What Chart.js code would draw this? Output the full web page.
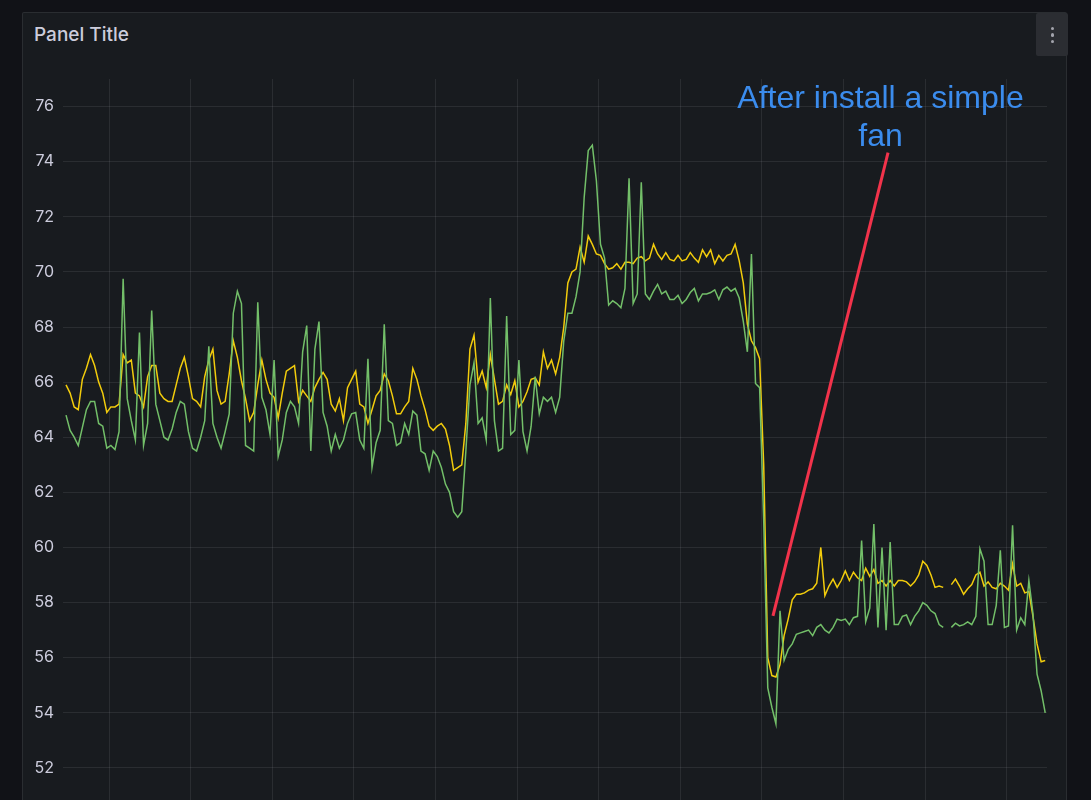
<!DOCTYPE html>
<html>
<head>
<meta charset="utf-8">
<script src="https://cdn.jsdelivr.net/npm/chart.js@4.4.1/dist/chart.umd.min.js"></script>
<style>
  html, body { margin: 0; padding: 0; }
  body {
    width: 1091px; height: 800px; overflow: hidden;
    background: #111217; position: relative;
    font-family: Inter, "Noto Sans", sans-serif;
  }
  #panel {
    position: absolute; left: 22px; top: 12px; width: 1045px; height: 850px;
    background: #181b1f; border: 1px solid rgba(204, 204, 220, 0.1);
    border-radius: 2px; box-sizing: border-box;
  }
  #title {
    position: absolute; left: 34px; top: 25px;
    font-size: 19px; line-height: 19px; font-weight: 500; color: #ccccdc;
  }
  #menu {
    position: absolute; left: 1036px; top: 13px; width: 32px; height: 43px;
    background: #2b2d32; border-radius: 2px;
  }
  #menu i {
    position: absolute; left: 14.5px; width: 3.4px; height: 3.4px;
    border-radius: 50%; background: #a3a4ad;
  }
  #wrap { position: absolute; left: 22px; top: 60px; width: 1046px; height: 790px; }
</style>
</head>
<body>
<div id="panel"></div>
<div id="title">Panel Title</div>
<div id="menu"><i style="top:13.5px"></i><i style="top:20.3px"></i><i style="top:27px"></i></div>
<div id="wrap"><canvas id="chart"></canvas></div>
<script>
// time axis: minutes of day, one sample every 30 s starting 13:54:44
const START_MIN = 834.73;
const STEP_MIN = 0.5;

// yellow series (null = missing sample)
const yellowValues = [
  65.9, 65.6, 65.1, 65.0, 66.1, 66.5, 67.0, 66.6, 66.0, 65.6,
  64.9, 65.1, 65.1, 65.2, 67.0, 66.7, 66.8, 65.6, 65.5, 65.1,
  66.2, 66.6, 66.6, 65.6, 65.4, 65.3, 65.3, 65.9, 66.5, 66.9,
  66.2, 65.4, 65.3, 65.1, 66.2, 66.8, 67.2, 65.7, 65.2, 65.3,
  66.3, 67.5, 66.9, 66.05, 65.4, 64.6, 64.9, 65.9, 66.8, 66.1,
  65.6, 65.45, 64.7, 65.6, 66.4, 66.5, 66.6, 65.3, 65.7, 65.5,
  65.3, 65.8, 66.1, 66.35, 66.1, 65.2, 64.95, 65.4, 64.6, 65.8,
  66.1, 66.4, 65.2, 65.1, 64.5, 65.0, 65.5, 65.7, 66.3, 66.05,
  65.5, 64.85, 64.85, 65.1, 65.3, 66.5, 66.1, 65.5, 65.0, 64.4,
  64.25, 64.4, 64.5, 64.3, 63.7, 62.8, 62.9, 63.0, 64.5, 67.2,
  67.7, 66.0, 66.4, 65.8, 67.0, 66.1, 65.2, 65.3, 65.9, 65.55,
  66.05, 65.1, 65.3, 65.65, 66.1, 66.15, 65.9, 67.1, 66.5, 66.8,
  66.3, 66.9, 68.0, 69.6, 70.0, 70.1, 70.9, 70.35, 71.3, 71.0,
  70.65, 70.6, 70.3, 70.1, 70.15, 70.3, 70.1, 70.35, 70.35, 70.3,
  70.5, 70.55, 70.4, 70.5, 71.0, 70.65, 70.45, 70.7, 70.45, 70.4,
  70.6, 70.4, 70.45, 70.7, 70.5, 70.35, 70.8, 70.55, 70.8, 70.3,
  70.6, 70.4, 70.6, 70.65, 71.0, 70.4, 69.6, 68.1, 67.5, 67.25,
  66.85, 63.0, 56.0, 55.35, 55.3, 55.75, 56.8, 57.4, 58.1, 58.3,
  58.3, 58.35, 58.45, 58.5, 58.7, 60.0, 58.25, 58.6, 58.85, 58.55,
  58.8, 59.15, 58.8, 59.1, 58.9, 58.8, 59.25, 58.95, 59.2, 58.7,
  58.8, 58.6, 58.8, 58.6, 58.8, 58.8, 58.75, 58.6, 58.75, 59.0,
  59.5, 59.35, 59.0, 58.55, 58.6, 58.55, null, 58.65, 58.85, 58.6,
  58.3, 58.5, 58.65, 59.0, 59.1, 58.6, 58.75, 58.55, 58.5, 58.7,
  58.6, 58.45, 59.4, 58.6, 58.7, 58.35, 58.4, 57.5, 56.5, 55.85, 55.9
];

// green series
const greenValues = [
  64.8, 64.25, 64.0, 63.7, 64.35, 65.0, 65.3, 65.3, 64.5, 64.4,
  63.6, 63.7, 63.55, 64.2, 69.75, 65.4, 64.6, 63.9, 67.8, 63.7,
  64.5, 68.6, 65.2, 64.6, 64.0, 63.9, 64.3, 64.9, 65.3, 65.2,
  64.2, 63.6, 63.5, 64.0, 64.6, 67.3, 64.5, 64.0, 63.6, 64.2,
  64.85, 68.5, 69.3, 68.85, 63.7, 63.6, 63.5, 68.9, 65.45, 65.0,
  64.1, 66.8, 63.3, 63.9, 64.9, 65.3, 65.1, 64.5, 67.1, 68.05,
  63.5, 67.2, 68.2, 64.9, 64.4, 63.5, 64.1, 63.6, 63.9, 64.5,
  64.85, 64.9, 63.9, 63.6, 66.85, 62.9, 63.8, 64.25, 68.1, 64.6,
  64.5, 63.7, 63.8, 64.5, 64.1, 64.95, 64.8, 63.5, 63.4, 62.8,
  63.5, 63.3, 62.9, 62.3, 62.0, 61.3, 61.1, 61.3, 63.5, 65.9,
  66.7, 64.5, 64.7, 63.9, 69.05, 64.6, 63.5, 63.6, 68.4, 64.1,
  64.25, 66.8, 64.2, 63.5, 64.4, 66.2, 64.85, 65.45, 65.3, 65.45,
  64.9, 65.45, 67.5, 68.5, 68.5, 69.1, 70.0, 72.7, 74.4, 74.6,
  73.3, 71.0, 70.5, 68.8, 68.95, 68.85, 68.7, 69.4, 73.4, 68.85,
  69.2, 73.25, 69.2, 69.0, 69.3, 69.55, 69.2, 69.3, 69.0, 69.0,
  69.15, 68.85, 69.0, 69.25, 69.4, 68.95, 69.2, 69.2, 69.25, 69.35,
  69.0, 69.35, 69.45, 69.3, 69.4, 69.05, 68.2, 67.1, 70.65, 65.95,
  65.8, 61.0, 54.9, 54.2, 53.6, 57.7, 55.9, 56.3, 56.5, 56.85,
  56.9, 56.95, 57.0, 56.8, 57.1, 57.2, 57.0, 56.9, 57.1, 57.4,
  57.35, 57.4, 57.2, 57.45, 57.5, 60.25, 57.3, 57.8, 60.85, 57.1,
  60.0, 57.0, 60.2, 57.2, 57.2, 57.5, 57.55, 57.2, 57.5, 57.7,
  58.0, 57.9, 57.7, 57.6, 57.2, 57.1, null, 57.1, 57.25, 57.15,
  57.2, 57.3, 57.2, 57.5, 59.95, 59.5, 57.2, 57.2, 57.9, 59.9,
  57.1, 57.15, 60.8, 57.0, 57.45, 57.2, 58.8, 57.6, 55.4, 54.8, 54.0
];

const sampleTimes = yellowValues.map((_, i) => START_MIN + i * STEP_MIN);

// y axis ticks
const yMin = 50;
const yMax = 77;
const yStep = 2;

// annotation (drawn over the chart in data units)
const noteLines = ["After install a simple", "fan"];
const noteX = 934.55;
const noteBaselines = [75.95, 74.58];
const arrowFrom = { x: 935.47, y: 74.33 };
const arrowTo = { x: 921.37, y: 57.52 };

const toPoints = (vals) => vals.map((v, i) => ({ x: sampleTimes[i], y: v }));

const gridColor = "rgba(204, 204, 220, 0.1)";

const notePlugin = {
  id: "note",
  afterDatasetsDraw: (chart) => {
    const { ctx, scales } = chart;
    const xs = scales.x;
    const ys = scales.y;
    ctx.save();
    ctx.strokeStyle = "#f2334b";
    ctx.lineWidth = 3;
    ctx.beginPath();
    ctx.moveTo(xs.getPixelForValue(arrowFrom.x), ys.getPixelForValue(arrowFrom.y));
    ctx.lineTo(xs.getPixelForValue(arrowTo.x), ys.getPixelForValue(arrowTo.y));
    ctx.stroke();
    ctx.fillStyle = "#3b8ced";
    ctx.font = "32px 'Liberation Sans', Arial, sans-serif";
    ctx.textAlign = "center";
    ctx.textBaseline = "alphabetic";
    noteLines.forEach((t, k) => {
      ctx.fillText(t, xs.getPixelForValue(noteX), ys.getPixelForValue(noteBaselines[k]));
    });
    ctx.restore();
  },
};

new Chart(document.getElementById("chart"), {
  type: "line",
  data: {
    datasets: [
      {
        label: "yellow",
        data: toPoints(yellowValues),
        borderColor: "#f2cc0c",
        borderWidth: 1.5,
        order: 2,
      },
      {
        label: "green",
        data: toPoints(greenValues),
        borderColor: "#73bf69",
        borderWidth: 1.5,
        order: 1,
      },
    ],
  },
  options: {
    animation: false,
    responsive: true,
    maintainAspectRatio: false,
    spanGaps: false,
    elements: { point: { radius: 0 }, line: { tension: 0 } },
    layout: { padding: { top: 19, right: 21, bottom: 27, left: 0 } },
    plugins: { legend: { display: false }, tooltip: { enabled: false } },
    scales: {
      x: {
        type: "linear",
        min: START_MIN - 0.37,
        max: START_MIN + 120.22,
        ticks: { display: false, stepSize: 10, includeBounds: false },
        grid: { color: gridColor, drawTicks: false },
        border: { display: false },
      },
      y: {
        min: yMin,
        max: yMax,
        afterFit: (s) => { s.width = 41; },
        ticks: {
          stepSize: yStep,
          includeBounds: false,
          padding: 9,
          color: "#ccccdc",
          font: { family: "Inter", size: 16 },
        },
        grid: { color: gridColor, drawTicks: false },
        border: { display: false },
      },
    },
  },
  plugins: [notePlugin],
});
</script>
</body>
</html>
